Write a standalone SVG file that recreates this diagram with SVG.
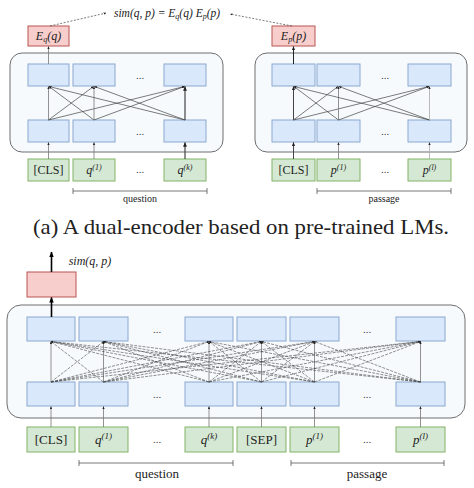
<svg xmlns="http://www.w3.org/2000/svg" width="474" height="488" viewBox="0 0 474 488">
<defs>
<marker id="ah" viewBox="0 0 10 10" refX="9" refY="5" markerWidth="4" markerHeight="4" orient="auto"><path d="M0,1 L10,5 L0,9 Z" fill="#222"/></marker>
<marker id="ahb" viewBox="0 0 10 10" refX="9" refY="5" markerWidth="3.5" markerHeight="3.5" orient="auto"><path d="M0,1 L10,5 L0,9 Z" fill="#000"/></marker>
<style>
.cont{fill:#f7fafd;stroke:#6e6e6e;stroke-width:1}
.blue{fill:#dae8fc;stroke:#8aa8d0;stroke-width:1}
.green{fill:#d5e8d4;stroke:#82b366;stroke-width:1}
.red{fill:#f8cecc;stroke:#b85450;stroke-width:1}
.t{font-family:"Liberation Serif",serif;fill:#222;text-anchor:middle}
.i{font-style:italic}
.c{stroke:#444;stroke-width:0.7;fill:none;marker-end:url(#ah)}
.cd{stroke:#444;stroke-width:0.6;fill:none;stroke-dasharray:3,1.2;marker-end:url(#ah)}
.v{stroke:#777;stroke-width:0.8;fill:none;marker-end:url(#ah)}
.vb{stroke:#000;stroke-width:1.6;fill:none;marker-end:url(#ahb)}
.dash{stroke:#444;stroke-width:0.7;fill:none;stroke-dasharray:2,1.5;marker-end:url(#ah)}
.br{stroke:#555;stroke-width:0.8;fill:none}
.dots{font-family:"Liberation Serif",serif;fill:#444;text-anchor:middle;font-size:11px}
</style>
</defs>

<!-- (a) dual encoder -->
<text class="t i" x="167" y="17" font-size="11.5">sim(q, p) = E<tspan font-size="8" dy="2">q</tspan><tspan dy="-2">(q) E</tspan><tspan font-size="8" dy="2">p</tspan><tspan dy="-2">(p)</tspan></text>

<g id="containerA1"><rect class="cont" x="10" y="53" width="213" height="99" rx="12"/></g>
<g id="containerA2"><rect class="cont" x="255" y="53" width="212" height="99" rx="12"/></g>

<g id="Eq"><rect class="red" x="28" y="26" width="41" height="20"/><text class="t i" x="48.5" y="40" font-size="12">E<tspan font-size="8" dy="2">q</tspan><tspan dy="-2">(q)</tspan></text></g>
<g id="Ep"><rect class="red" x="272" y="26" width="43" height="20"/><text class="t i" x="293.5" y="40" font-size="12">E<tspan font-size="8" dy="2">p</tspan><tspan dy="-2">(p)</tspan></text></g>

<g id="a_q_top">
<rect class="blue" x="28" y="64" width="41" height="22"/>
<rect class="blue" x="73" y="64" width="42" height="22"/>
<rect class="blue" x="164" y="64" width="42" height="22"/>
<text class="dots" x="140" y="79">...</text>
</g>
<g id="a_q_bot">
<rect class="blue" x="28" y="120" width="41" height="22"/>
<rect class="blue" x="73" y="120" width="42" height="22"/>
<rect class="blue" x="164" y="120" width="42" height="22"/>
<text class="dots" x="140" y="135">...</text>
</g>
<g id="a_q_in">
<rect class="green" x="28" y="159" width="41" height="22"/><text class="t" x="48.5" y="174" font-size="12">[CLS]</text>
<rect class="green" x="73" y="159" width="42" height="22"/><text class="t i" x="94" y="174" font-size="12">q<tspan font-size="8" dy="-4">(1)</tspan></text>
<rect class="green" x="164" y="159" width="42" height="22"/><text class="t i" x="185" y="174" font-size="12">q<tspan font-size="8" dy="-4">(k)</tspan></text>
<text class="dots" x="140" y="173">...</text>
</g>
<g id="a_q_label">
<path class="br" d="M73,188 V194 M73,191 H207 M207,188 V194"/>
<text class="t" x="140" y="202" font-size="10">question</text>
</g>

<g id="a_p_top">
<rect class="blue" x="272" y="64" width="43" height="22"/>
<rect class="blue" x="317" y="64" width="43" height="22"/>
<rect class="blue" x="408" y="64" width="43" height="22"/>
<text class="dots" x="385" y="79">...</text>
</g>
<g id="a_p_bot">
<rect class="blue" x="272" y="120" width="43" height="22"/>
<rect class="blue" x="317" y="120" width="43" height="22"/>
<rect class="blue" x="408" y="120" width="43" height="22"/>
<text class="dots" x="385" y="135">...</text>
</g>
<g id="a_p_in">
<rect class="green" x="272" y="159" width="43" height="22"/><text class="t" x="293.5" y="174" font-size="12">[CLS]</text>
<rect class="green" x="317" y="159" width="43" height="22"/><text class="t i" x="338.5" y="174" font-size="12">p<tspan font-size="8" dy="-4">(1)</tspan></text>
<rect class="green" x="408" y="159" width="43" height="22"/><text class="t i" x="429.5" y="174" font-size="12">p<tspan font-size="8" dy="-4">(l)</tspan></text>
<text class="dots" x="385" y="173">...</text>
</g>
<g id="a_p_label">
<path class="br" d="M317,188 V194 M317,191 H451 M451,188 V194"/>
<text class="t" x="384" y="202" font-size="10">passage</text>
</g>

<g id="connectorsA">
<path class="dash" d="M50,26 L106,13"/>
<path class="dash" d="M292,26 L230,14"/>
<path class="v" d="M48.5,64 V46.5"/>
<path class="c" d="M293.5,64 V46.5" style="stroke:#222;stroke-width:1"/>
<!-- question encoder -->
<path class="v" d="M48.5,159 V142.5"/><path class="v" d="M94,159 V142.5"/><path class="c" d="M185,159 V142.5" style="stroke-width:1.2"/>
<path class="v" d="M48.5,120 V86.5"/><path class="c" d="M48.5,120 L93.5,86.5"/><path class="c" d="M48.5,120 L184.5,86.5"/>
<path class="c" d="M94,120 L49,86.5"/><path class="v" d="M94,120 V86.5"/><path class="c" d="M94,120 L184.5,86.5"/>
<path class="c" d="M185,120 L49,86.5"/><path class="c" d="M185,120 L94.5,86.5"/><path class="c" d="M185,120 V86.5" style="stroke-width:1.2"/>
<!-- passage encoder -->
<path class="c" d="M293.5,159 V142.5" style="stroke-width:1"/><path class="v" d="M338.5,159 V142.5"/><path class="v" d="M429.5,159 V142.5" style="stroke:#aaa"/>
<path class="c" d="M293.5,120 V86.5" style="stroke-width:1"/><path class="c" d="M293.5,120 L338,86.5"/><path class="c" d="M293.5,120 L429,86.5"/>
<path class="c" d="M338.5,120 L294,86.5"/><path class="v" d="M338.5,120 V86.5"/><path class="c" d="M338.5,120 L429,86.5"/>
<path class="c" d="M429.5,120 L294,86.5"/><path class="c" d="M429.5,120 L339,86.5"/><path class="v" d="M429.5,120 V86.5" style="stroke:#aaa"/>
</g>

<text class="t" x="241" y="234" font-size="22" textLength="416" lengthAdjust="spacingAndGlyphs">(a) A dual-encoder based on pre-trained LMs.</text>

<!-- (b) cross encoder -->
<g id="containerB"><rect class="cont" x="7" y="305" width="458" height="113" rx="14"/></g>
<g id="simOut"><rect class="red" x="27" y="272" width="49" height="25"/><text class="t i" x="90" y="265" font-size="12">sim(q, p)</text></g>

<g id="b_top">
<rect class="blue" x="27" y="317" width="48" height="24"/>
<rect class="blue" x="79" y="317" width="49" height="24"/>
<rect class="blue" x="185" y="317" width="48" height="24"/>
<rect class="blue" x="237" y="317" width="49" height="24"/>
<rect class="blue" x="290" y="317" width="49" height="24"/>
<rect class="blue" x="396" y="317" width="49" height="24"/>
<text class="dots" x="157" y="333">...</text>
<text class="dots" x="367" y="333">...</text>
</g>
<g id="b_bot">
<rect class="blue" x="27" y="382" width="48" height="24"/>
<rect class="blue" x="79" y="382" width="49" height="24"/>
<rect class="blue" x="185" y="382" width="48" height="24"/>
<rect class="blue" x="237" y="382" width="49" height="24"/>
<rect class="blue" x="290" y="382" width="49" height="24"/>
<rect class="blue" x="396" y="382" width="49" height="24"/>
<text class="dots" x="157" y="398">...</text>
<text class="dots" x="367" y="398">...</text>
</g>
<g id="b_in">
<rect class="green" x="27" y="427" width="48" height="25"/><text class="t" x="51" y="444" font-size="13">[CLS]</text>
<rect class="green" x="79" y="427" width="49" height="25"/><text class="t i" x="103.5" y="444" font-size="13">q<tspan font-size="9" dy="-5">(1)</tspan></text>
<rect class="green" x="185" y="427" width="48" height="25"/><text class="t i" x="209" y="444" font-size="13">q<tspan font-size="9" dy="-5">(k)</tspan></text>
<rect class="green" x="237" y="427" width="49" height="25"/><text class="t" x="261.5" y="444" font-size="13">[SEP]</text>
<rect class="green" x="290" y="427" width="49" height="25"/><text class="t i" x="314.5" y="444" font-size="13">p<tspan font-size="9" dy="-5">(1)</tspan></text>
<rect class="green" x="396" y="427" width="49" height="25"/><text class="t i" x="420.5" y="444" font-size="13">p<tspan font-size="9" dy="-5">(l)</tspan></text>
<text class="dots" x="157" y="443">...</text>
<text class="dots" x="367" y="443">...</text>
</g>
<g id="b_labels">
<path class="br" d="M79,460 V466 M79,463 H233 M233,460 V466"/>
<text class="t" x="157" y="478" font-size="13">question</text>
<path class="br" d="M291,460 V466 M291,463 H444 M444,460 V466"/>
<text class="t" x="367" y="478" font-size="13">passage</text>
</g>

<g id="connectorsB">
<path class="vb" d="M51.5,272 V252"/>
<path class="vb" d="M51.5,317 V297.5"/>
<path class="v" d="M51,427 V406.5"/><path class="v" d="M103.5,427 V406.5"/><path class="v" d="M209,427 V406.5"/><path class="v" d="M261.5,427 V406.5"/><path class="v" d="M314.5,427 V406.5"/><path class="v" d="M420.5,427 V406.5"/>
<path class="v" d="M51,382 V341.5"/><path class="v" d="M103.5,382 V341.5"/><path class="v" d="M209,382 V341.5"/><path class="v" d="M261.5,382 V341.5"/><path class="v" d="M314.5,382 V341.5"/><path class="v" d="M420.5,382 V341.5"/>
<path class="cd" d="M51,382 L103.5,341.5"/><path class="cd" d="M51,382 L209,341.5"/><path class="cd" d="M51,382 L261.5,341.5"/><path class="cd" d="M51,382 L314.5,341.5"/><path class="cd" d="M51,382 L420.5,341.5"/>
<path class="cd" d="M103.5,382 L51,341.5"/><path class="cd" d="M103.5,382 L209,341.5"/><path class="cd" d="M103.5,382 L261.5,341.5"/><path class="cd" d="M103.5,382 L314.5,341.5"/><path class="cd" d="M103.5,382 L420.5,341.5"/>
<path class="cd" d="M209,382 L51,341.5"/><path class="cd" d="M209,382 L103.5,341.5"/><path class="cd" d="M209,382 L261.5,341.5"/><path class="cd" d="M209,382 L314.5,341.5"/><path class="cd" d="M209,382 L420.5,341.5"/>
<path class="cd" d="M261.5,382 L51,341.5"/><path class="cd" d="M261.5,382 L103.5,341.5"/><path class="cd" d="M261.5,382 L209,341.5"/><path class="cd" d="M261.5,382 L314.5,341.5"/><path class="cd" d="M261.5,382 L420.5,341.5"/>
<path class="cd" d="M314.5,382 L51,341.5"/><path class="cd" d="M314.5,382 L103.5,341.5"/><path class="cd" d="M314.5,382 L209,341.5"/><path class="cd" d="M314.5,382 L261.5,341.5"/><path class="cd" d="M314.5,382 L420.5,341.5"/>
<path class="cd" d="M420.5,382 L51,341.5"/><path class="cd" d="M420.5,382 L103.5,341.5"/><path class="cd" d="M420.5,382 L209,341.5"/><path class="cd" d="M420.5,382 L261.5,341.5"/><path class="cd" d="M420.5,382 L314.5,341.5"/>
</g>
</svg>
